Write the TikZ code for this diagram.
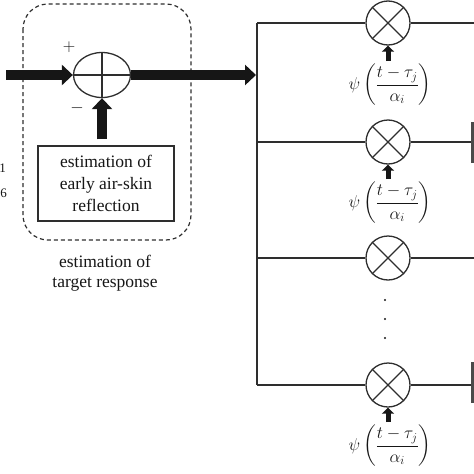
\documentclass[tikz,border=0pt]{standalone}
\usepackage{amsmath}
\usepackage{fontspec}
\setmainfont{Liberation Serif}
\usepackage{tikz}
\usetikzlibrary{arrows.meta,shapes.geometric}
\definecolor{ink}{HTML}{161616}
\definecolor{linegray}{HTML}{2E2E2E}
\definecolor{edgegray}{HTML}{4A4A4A}

\begin{document}
\begin{tikzpicture}[x=1pt,y=-1pt,font=\fontsize{17.5}{22}\selectfont,
    fat/.style={draw=ink,line width=10pt,-{Triangle[length=11pt,width=20pt]}},
    slim/.style={draw=ink,line width=5pt,-{Triangle[length=6pt,width=12pt]}},
    mult/.style={circle,draw=linegray,line width=1.3pt,minimum size=44pt,inner sep=0pt},
    wire/.style={draw=linegray,line width=1.2pt},
    psilab/.style={font=\fontsize{17}{19}\selectfont,text=ink,inner sep=0pt}]
  \useasboundingbox (0,0) rectangle (474,474);
  % target-response block
  \draw[linegray,line width=1.2pt,dash pattern=on 4pt off 3pt,rounded corners=25pt]
    (23,4) rectangle (191,240);
  \node[ellipse,draw=linegray,line width=1.3pt,minimum width=57pt,minimum height=45pt,inner sep=0pt] (sum) at (102,75) {};
  \draw[wire] (sum.north) -- (sum.south) (sum.west) -- (sum.east);
  \node[text=ink,font=\fontsize{17}{19}\selectfont] (plus) at (69,47) {$+$};
  \node[text=ink,font=\fontsize{17}{19}\selectfont] (minus) at (77,108) {$-$};
  \node[draw=linegray,line width=1.2pt,minimum width=136pt,minimum height=75pt,align=center,text=ink] (est) at (106,183.5)
    {estimation of\\early air-skin\\reflection};
  \node[align=center,text=ink,font=\fontsize{17.5}{20.5}\selectfont] (cap) at (105,273) {estimation of\\target response};
  \coordinate (in) at (6,75);
  \coordinate (b0) at (256,75);
  \draw[fat] (in) -- (sum.west);
  \draw[fat] (sum.east) -- (b0);
  \draw[fat,shorten <=6pt] (est.north -| sum.south) -- (sum.south);
  % wavelet branches
  \foreach \n/\y in {1/23,2/142,3/258,4/385}{
    \node[mult] (m\n) at (388,\y) {};
    \draw[wire] (m\n.north west) -- (m\n.south east) (m\n.north east) -- (m\n.south west);
    \coordinate (t\n) at (257,\y);
    \coordinate (o\n) at (474,\y);
    \draw[wire] (t\n) -- (m\n.west) (m\n.east) -- (o\n);}
  \draw[wire] (t1) -- (t4);
  \foreach \n/\y in {1/85,2/203,4/446}{
    \node[psilab] (psi\n) at (390,\y) {$\psi\left(\dfrac{t-\tau_j}{\alpha_i}\right)$};
    \coordinate (a\n) at (388,\y-24);
    \draw[slim] (a\n) -- (m\n.south);}
  \foreach \y in {300,319,338}
    \fill[ink] (385,\y) circle (1.1pt);
  % cut-off bits at the edges
  \fill[edgegray] (471,122) rectangle (474,163);
  \fill[edgegray] (471,362) rectangle (474,403);
  \node[anchor=east,text=ink,font=\fontsize{13}{15}\selectfont,inner sep=0pt] (c1) at (6,168) {1};
  \node[anchor=east,text=ink,font=\fontsize{13}{15}\selectfont,inner sep=0pt] (c6) at (7,193) {6};
\end{tikzpicture}
\end{document}
